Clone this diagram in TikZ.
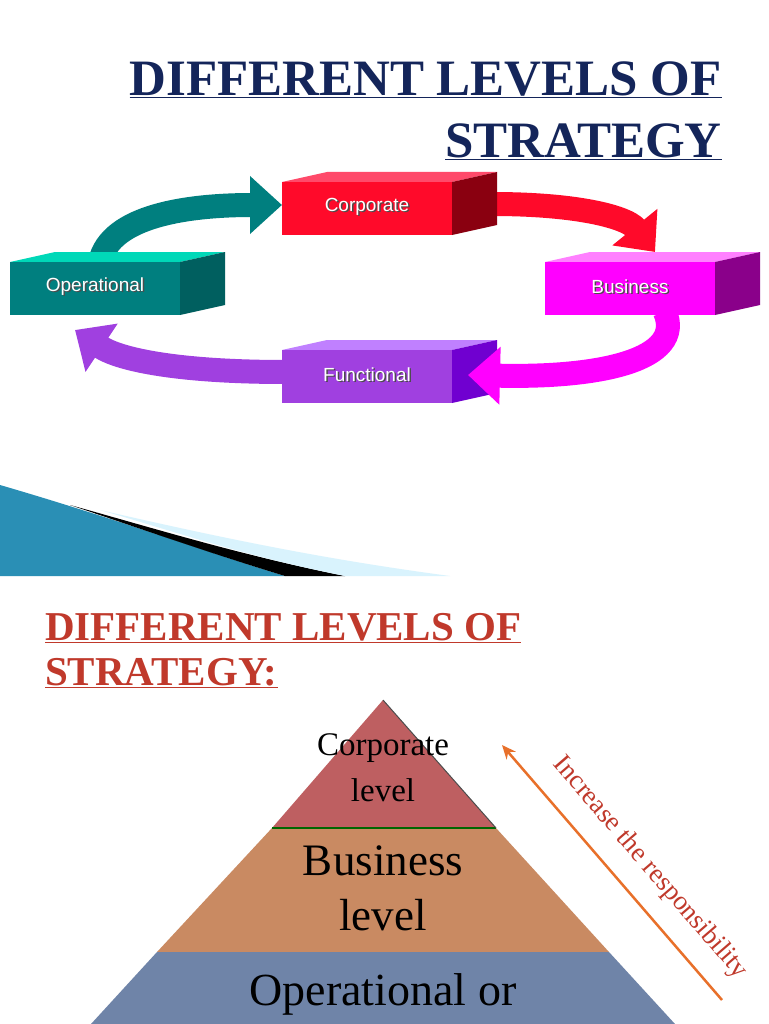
\documentclass[tikz,border=0pt]{standalone}
\usepackage{fontspec}
\setmainfont{Liberation Serif}
\setsansfont{Liberation Sans}
\usetikzlibrary{arrows.meta}
\definecolor{navy}{HTML}{14255A}
\definecolor{ttlred}{HTML}{C0392B}
\definecolor{tealf}{HTML}{007F7F}
\definecolor{teals}{HTML}{005F5F}
\definecolor{tealt}{HTML}{00D8B8}
\definecolor{redf}{HTML}{FF0A2A}
\definecolor{reds}{HTML}{8A0010}
\definecolor{redt}{HTML}{FF4A6A}
\definecolor{magf}{HTML}{FF00FF}
\definecolor{mags}{HTML}{8A008A}
\definecolor{magt}{HTML}{FF80FF}
\definecolor{purf}{HTML}{A040E0}
\definecolor{purs}{HTML}{7000D0}
\definecolor{purt}{HTML}{C080FF}
\definecolor{pyrtop}{HTML}{BE5F61}
\definecolor{pyrmid}{HTML}{C98A62}
\definecolor{pyrbot}{HTML}{6F84A8}
\definecolor{arrorange}{HTML}{E8702A}
\definecolor{swblue}{HTML}{2A8FB5}
\tikzset{
  band/.style={line width=24pt},
  boxlbl/.style={font=\sffamily\fontsize{19}{22}\selectfont, text=white},
  bigtxt/.style 2 args={font=\fontsize{#1}{#2}\selectfont, align=center},
}
\newcommand{\mybox}[7]{% name, x, y, front, side, top, label
  \fill[#6] (#2,#3) -- ++(45,-10) -- ++(170,0) -- ++(-45,10) -- cycle;
  \fill[#5] (#2+170,#3) -- ++(45,-10) -- ++(0,53) -- ++(-45,10) -- cycle;
  \fill[#4] (#2,#3) rectangle ++(170,53);
  \node[boxlbl] at (#2+85+1.5,#3+24.5+1.5) {\textcolor{black!70}{#7}};
  \node[boxlbl] (#1) at (#2+85,#3+24.5) {#7};
}
\begin{document}
\begin{tikzpicture}[x=1pt,y=-1pt]
\useasboundingbox (0,0) rectangle (768,1024);
\fill[white] (0,0) rectangle (768,1024);
% top title
\node[anchor=south east, inner sep=0, text=navy, font=\bfseries\fontsize{51}{51}\selectfont] (t1) at (722,98) {\underline{DIFFERENT LEVELS OF}};
\node[anchor=south east, inner sep=0, text=navy, font=\bfseries\fontsize{51}{51}\selectfont] (t2) at (722,160) {\underline{STRATEGY}};
% cycle arrows
\coordinate (ca) at (452,205); \coordinate (cb) at (655,252);
\coordinate (ba) at (665,312); \coordinate (bb) at (468,375);
\coordinate (fa) at (285,372); \coordinate (fb) at (75,330);
\coordinate (oa) at (100,262); \coordinate (ob) at (282,205);
\draw[band, redf, -{Triangle[length=32pt,width=56pt]}] (ca) .. controls (560,200) and (625,215) .. (cb);
\draw[band, purf, -{Triangle[length=32pt,width=56pt]}] (fa) .. controls (180,372) and (120,360) .. (fb);
\draw[band, tealf, -{Triangle[length=32pt,width=56pt]}] (oa) .. controls (110,215) and (190,205) .. (ob);
% boxes
\mybox{corp}{282}{182}{redf}{reds}{redt}{Corporate}
\mybox{oper}{10}{262}{tealf}{teals}{tealt}{Operational}
\mybox{bus}{545}{262}{magf}{mags}{magt}{Business}
\mybox{func}{282}{350}{purf}{purs}{purt}{Functional}
\draw[band, magf, -{Triangle[length=32pt,width=56pt]}] (ba) .. controls (685,360) and (600,378) .. (bb);
% swoosh
\fill[swblue] (0,485) .. controls (120,520) and (200,550) .. (285,576) -- (0,576) -- cycle;
\fill[black] (70,505) .. controls (160,530) and (240,555) .. (345,576) -- (285,576) .. controls (200,550) and (130,525) .. cycle;
\fill[cyan!15] (100,510) .. controls (230,540) and (330,560) .. (450,576) -- (345,576) .. controls (240,555) and (170,530) .. cycle;
% bottom title
\node[anchor=south west, inner sep=0, text=ttlred, font=\bfseries\fontsize{41}{41}\selectfont] (b1) at (45,643) {\underline{DIFFERENT LEVELS OF}};
\node[anchor=south west, inner sep=0, text=ttlred, font=\bfseries\fontsize{41}{41}\selectfont] (b2) at (45,688) {\underline{STRATEGY:}};
% pyramid
\fill[pyrtop] (383,700) -- (496,828) -- (272,828) -- cycle;
\fill[pyrmid] (272,828) -- (496,828) -- (609,952) -- (157,952) -- cycle;
\fill[pyrbot] (157,952) -- (609,952) -- (675,1024) -- (91,1024) -- cycle;
\draw[green!40!black, line width=1.5pt] (272,828) -- (496,828);
\draw[black!70, line width=1pt] (383,700) -- (496,828);
\node[bigtxt={33}{46}] (corpl) at (383,768) {Corporate\\level};
\node[bigtxt={45}{55}] (busl) at (383,888) {Business\\level};
\node[bigtxt={46}{46}, anchor=base] (opl) at (383,1005) {Operational or};
% responsibility arrow
\coordinate (r1) at (722,1000); \coordinate (r2) at (502,745);
\draw[arrorange, line width=2.5pt, -{Stealth[length=14pt,width=12pt]}] (r1) -- (r2);
\node[rotate=-49.2, text=ttlred, font=\fontsize{27}{27}\selectfont] (inc) at (650,868) {Increase the responsibility};
\end{tikzpicture}
\end{document}
